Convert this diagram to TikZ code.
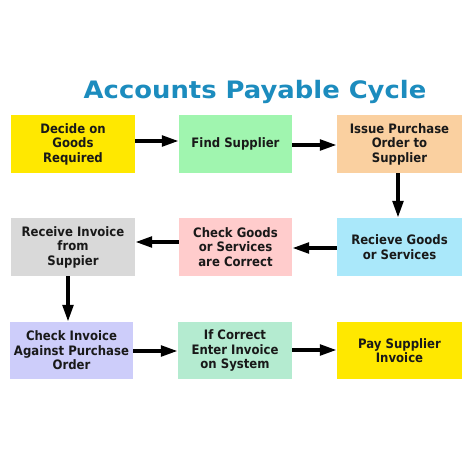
\documentclass[tikz,border=0pt]{standalone}
\usepackage{fontspec}
\setmainfont{DejaVu Sans}
\newfontfamily\boxfont{DejaVu Sans Bold}[FakeStretch=0.9]
\newfontfamily\titlefont{DejaVu Sans Bold}[FakeStretch=1.077]
\usetikzlibrary{arrows.meta}
\definecolor{cyellow}{RGB}{255,232,0}
\definecolor{cgreen}{RGB}{160,245,175}
\definecolor{cpeach}{RGB}{250,208,160}
\definecolor{cgray}{RGB}{217,217,217}
\definecolor{cpink}{RGB}{255,204,204}
\definecolor{ccyan}{RGB}{170,232,250}
\definecolor{clav}{RGB}{205,205,250}
\definecolor{cteal}{RGB}{180,235,208}
\definecolor{ctitle}{RGB}{28,140,190}
\definecolor{ctext}{RGB}{25,25,25}
\begin{document}
\begin{tikzpicture}[x=1pt,y=-1pt,
  box/.style={draw=none,inner sep=0pt,align=center,text=ctext,
    font=\boxfont\fontsize{13}{14.5}\selectfont},
  arr/.style={line width=3.8pt,draw=black,-{Triangle[length=17pt,width=10.5pt]}}]
\useasboundingbox[fill=white] (0,0) rectangle (474,474);
\node[font=\titlefont\fontsize{24}{30}\selectfont,text=ctitle,anchor=base] (title) at (255,98) {Accounts Payable Cycle};
% row 1
\node[box,fill=cyellow,minimum width=124pt,minimum height=58pt] (b1) at (73,144) {Decide on\\Goods\\Required};
\node[box,fill=cgreen,minimum width=113pt,minimum height=58pt] (b2) at (235.5,144) {Find Supplier};
\node[box,fill=cpeach,minimum width=125pt,minimum height=58pt] (b3) at (399.5,144) {Issue Purchase\\Order to\\Supplier};
% row 2
\node[box,fill=cgray,minimum width=124pt,minimum height=58pt] (b6) at (73,247) {Receive Invoice\\from\\Suppier};
\node[box,fill=cpink,minimum width=113pt,minimum height=58pt] (b5) at (235.5,247) {Check Goods\\or Services\\are Correct};
\node[box,fill=ccyan,minimum width=125pt,minimum height=58pt] (b4) at (399.5,247) {Recieve Goods\\or Services};
% row 3
\node[box,fill=clav,minimum width=123pt,minimum height=57pt] (b7) at (71.5,350.5) {Check Invoice\\Against Purchase\\Order};
\node[box,fill=cteal,minimum width=114pt,minimum height=57pt] (b8) at (235,350.5) {If Correct\\Enter Invoice\\on System};
\node[box,fill=cyellow,minimum width=125pt,minimum height=57pt] (b9) at (399.5,350.5) {Pay Supplier\\Invoice};
% arrows
\draw[arr] (b1.east |- 0,141) -- (b2.west |- 0,141);
\draw[arr] (b2.east |- 0,145) -- (b3.west |- 0,145);
\draw[arr] (b3.south -| 398,0) -- (b4.north -| 398,0);
\draw[arr] (b4.west |- 0,248) -- (b5.east |- 0,248);
\draw[arr] (b5.west |- 0,242) -- (b6.east |- 0,242);
\draw[arr] (b6.south -| 68,0) -- (b7.north -| 68,0);
\draw[arr] (b7.east |- 0,351) -- (b8.west |- 0,351);
\draw[arr] (b8.east |- 0,350) -- (b9.west |- 0,350);
\end{tikzpicture}
\end{document}
